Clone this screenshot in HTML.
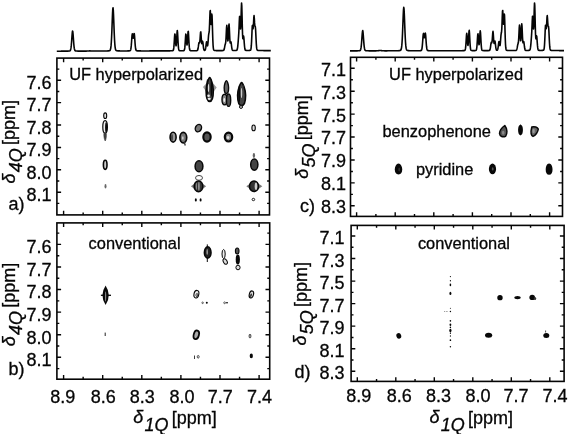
<!DOCTYPE html>
<html><head><meta charset="utf-8"><style>
html,body{margin:0;padding:0;background:#fff;}
svg{display:block;}
text{font-family:"Liberation Sans", Arial, sans-serif;fill:#050505;stroke:#000;stroke-width:0.3px;paint-order:stroke;}
</style></head><body>
<svg width="569" height="434" viewBox="0 0 569 434">
<rect width="569" height="434" fill="#fff"/>
<path d="M56.80,51.19 L57.05,51.19 L57.30,51.19 L57.55,51.19 L57.80,51.19 L58.05,51.19 L58.30,51.19 L58.55,51.18 L58.80,51.18 L59.05,51.18 L59.30,51.18 L59.55,51.18 L59.80,51.18 L60.05,51.18 L60.30,51.18 L60.55,51.18 L60.80,51.18 L61.05,51.17 L61.30,51.17 L61.55,51.17 L61.80,51.17 L62.05,51.17 L62.30,51.17 L62.55,51.17 L62.80,51.16 L63.05,51.16 L63.30,51.16 L63.55,51.16 L63.80,51.16 L64.05,51.16 L64.30,51.15 L64.55,51.15 L64.80,51.15 L65.05,51.15 L65.30,51.14 L65.55,51.14 L65.80,51.14 L66.05,51.14 L66.30,51.13 L66.55,51.13 L66.80,51.12 L67.05,51.12 L67.30,51.11 L67.55,51.11 L67.80,51.10 L68.05,51.09 L68.30,51.08 L68.55,51.07 L68.80,51.06 L69.05,51.04 L69.30,51.02 L69.55,50.98 L69.80,50.90 L70.05,50.75 L70.30,50.45 L70.55,49.90 L70.80,48.93 L71.05,47.38 L71.30,45.13 L71.55,42.20 L71.80,38.80 L72.05,35.34 L72.30,32.45 L72.55,31.00 L72.80,31.65 L73.05,34.07 L73.30,37.39 L73.55,40.87 L73.80,44.03 L74.05,46.56 L74.30,48.38 L74.55,49.56 L74.80,50.26 L75.05,50.64 L75.30,50.84 L75.55,50.94 L75.80,50.99 L76.05,51.01 L76.30,51.03 L76.55,51.05 L76.80,51.06 L77.05,51.06 L77.30,51.07 L77.55,51.08 L77.80,51.08 L78.05,51.08 L78.30,51.09 L78.55,51.09 L78.80,51.09 L79.05,51.10 L79.30,51.10 L79.55,51.10 L79.80,51.10 L80.05,51.10 L80.30,51.10 L80.55,51.10 L80.80,51.10 L81.05,51.10 L81.30,51.11 L81.55,51.11 L81.80,51.11 L82.05,51.11 L82.30,51.11 L82.55,51.11 L82.80,51.11 L83.05,51.11 L83.30,51.11 L83.55,51.10 L83.80,51.10 L84.05,51.10 L84.30,51.10 L84.55,51.10 L84.80,51.10 L85.05,51.10 L85.30,51.10 L85.55,51.10 L85.80,51.09 L86.05,51.09 L86.30,51.09 L86.55,51.08 L86.80,51.07 L87.05,51.06 L87.30,51.05 L87.55,51.04 L87.80,51.02 L88.05,51.00 L88.30,50.98 L88.55,50.96 L88.80,50.95 L89.05,50.93 L89.30,50.92 L89.55,50.91 L89.80,50.91 L90.05,50.91 L90.30,50.92 L90.55,50.94 L90.80,50.95 L91.05,50.97 L91.30,50.99 L91.55,51.01 L91.80,51.02 L92.05,51.03 L92.30,51.04 L92.55,51.05 L92.80,51.06 L93.05,51.07 L93.30,51.07 L93.55,51.07 L93.80,51.07 L94.05,51.07 L94.30,51.07 L94.55,51.07 L94.80,51.07 L95.05,51.07 L95.30,51.07 L95.55,51.07 L95.80,51.07 L96.05,51.07 L96.30,51.07 L96.55,51.07 L96.80,51.07 L97.05,51.07 L97.30,51.06 L97.55,51.06 L97.80,51.06 L98.05,51.06 L98.30,51.06 L98.55,51.06 L98.80,51.06 L99.05,51.06 L99.30,51.05 L99.55,51.05 L99.80,51.05 L100.05,51.05 L100.30,51.05 L100.55,51.05 L100.80,51.04 L101.05,51.04 L101.30,51.04 L101.55,51.04 L101.80,51.04 L102.05,51.03 L102.30,51.03 L102.55,51.03 L102.80,51.03 L103.05,51.02 L103.30,51.02 L103.55,51.02 L103.80,51.02 L104.05,51.01 L104.30,51.01 L104.55,51.00 L104.80,51.00 L105.05,51.00 L105.30,50.99 L105.55,50.99 L105.80,50.98 L106.05,50.97 L106.30,50.97 L106.55,50.96 L106.80,50.95 L107.05,50.94 L107.30,50.93 L107.55,50.92 L107.80,50.90 L108.05,50.89 L108.30,50.87 L108.55,50.85 L108.80,50.82 L109.05,50.79 L109.30,50.74 L109.55,50.67 L109.80,50.54 L110.05,50.31 L110.30,49.88 L110.55,49.10 L110.80,47.77 L111.05,45.63 L111.30,42.44 L111.55,38.04 L111.80,32.46 L112.05,26.00 L112.30,19.27 L112.55,13.15 L112.80,8.84 L113.05,7.72 L113.30,10.25 L113.55,15.45 L113.80,21.94 L114.05,28.65 L114.30,34.81 L114.55,39.94 L114.80,43.85 L115.05,46.59 L115.30,48.37 L115.55,49.45 L115.80,50.07 L116.05,50.40 L116.30,50.58 L116.55,50.68 L116.80,50.74 L117.05,50.78 L117.30,50.81 L117.55,50.83 L117.80,50.85 L118.05,50.86 L118.30,50.88 L118.55,50.89 L118.80,50.90 L119.05,50.90 L119.30,50.91 L119.55,50.92 L119.80,50.92 L120.05,50.93 L120.30,50.93 L120.55,50.94 L120.80,50.94 L121.05,50.94 L121.30,50.95 L121.55,50.95 L121.80,50.95 L122.05,50.95 L122.30,50.95 L122.55,50.95 L122.80,50.95 L123.05,50.95 L123.30,50.95 L123.55,50.95 L123.80,50.95 L124.05,50.95 L124.30,50.95 L124.55,50.95 L124.80,50.95 L125.05,50.95 L125.30,50.95 L125.55,50.95 L125.80,50.95 L126.05,50.94 L126.30,50.94 L126.55,50.94 L126.80,50.94 L127.05,50.93 L127.30,50.93 L127.55,50.92 L127.80,50.92 L128.05,50.91 L128.30,50.90 L128.55,50.89 L128.80,50.88 L129.05,50.87 L129.30,50.85 L129.55,50.82 L129.80,50.78 L130.05,50.69 L130.30,50.49 L130.55,50.04 L130.80,49.16 L131.05,47.58 L131.30,45.15 L131.55,41.96 L131.80,38.42 L132.05,35.33 L132.30,33.79 L132.55,34.45 L132.80,36.27 L133.05,37.81 L133.30,38.17 L133.55,37.12 L133.80,35.20 L134.05,33.57 L134.30,33.74 L134.55,36.09 L134.80,39.56 L135.05,43.12 L135.30,46.11 L135.55,48.24 L135.80,49.54 L136.05,50.24 L136.30,50.57 L136.55,50.72 L136.80,50.79 L137.05,50.82 L137.30,50.84 L137.55,50.86 L137.80,50.87 L138.05,50.88 L138.30,50.89 L138.55,50.89 L138.80,50.90 L139.05,50.90 L139.30,50.91 L139.55,50.91 L139.80,50.92 L140.05,50.92 L140.30,50.92 L140.55,50.92 L140.80,50.92 L141.05,50.93 L141.30,50.93 L141.55,50.93 L141.80,50.93 L142.05,50.93 L142.30,50.93 L142.55,50.93 L142.80,50.93 L143.05,50.93 L143.30,50.93 L143.55,50.93 L143.80,50.93 L144.05,50.93 L144.30,50.93 L144.55,50.93 L144.80,50.93 L145.05,50.93 L145.30,50.93 L145.55,50.93 L145.80,50.93 L146.05,50.93 L146.30,50.93 L146.55,50.93 L146.80,50.93 L147.05,50.93 L147.30,50.93 L147.55,50.93 L147.80,50.93 L148.05,50.93 L148.30,50.93 L148.55,50.93 L148.80,50.93 L149.05,50.93 L149.30,50.93 L149.55,50.92 L149.80,50.92 L150.05,50.92 L150.30,50.92 L150.55,50.92 L150.80,50.92 L151.05,50.92 L151.30,50.92 L151.55,50.92 L151.80,50.92 L152.05,50.92 L152.30,50.92 L152.55,50.92 L152.80,50.92 L153.05,50.92 L153.30,50.92 L153.55,50.91 L153.80,50.91 L154.05,50.91 L154.30,50.91 L154.55,50.91 L154.80,50.91 L155.05,50.91 L155.30,50.91 L155.55,50.91 L155.80,50.91 L156.05,50.91 L156.30,50.91 L156.55,50.91 L156.80,50.91 L157.05,50.90 L157.30,50.90 L157.55,50.90 L157.80,50.90 L158.05,50.90 L158.30,50.90 L158.55,50.90 L158.80,50.90 L159.05,50.90 L159.30,50.90 L159.55,50.90 L159.80,50.90 L160.05,50.90 L160.30,50.89 L160.55,50.89 L160.80,50.89 L161.05,50.89 L161.30,50.89 L161.55,50.89 L161.80,50.89 L162.05,50.89 L162.30,50.89 L162.55,50.89 L162.80,50.88 L163.05,50.88 L163.30,50.88 L163.55,50.88 L163.80,50.88 L164.05,50.88 L164.30,50.88 L164.55,50.88 L164.80,50.88 L165.05,50.87 L165.30,50.87 L165.55,50.87 L165.80,50.87 L166.05,50.87 L166.30,50.87 L166.55,50.87 L166.80,50.86 L167.05,50.86 L167.30,50.86 L167.55,50.86 L167.80,50.86 L168.05,50.85 L168.30,50.85 L168.55,50.85 L168.80,50.85 L169.05,50.84 L169.30,50.84 L169.55,50.84 L169.80,50.83 L170.05,50.83 L170.30,50.82 L170.55,50.82 L170.80,50.81 L171.05,50.80 L171.30,50.80 L171.55,50.79 L171.80,50.77 L172.05,50.76 L172.30,50.74 L172.55,50.71 L172.80,50.65 L173.05,50.52 L173.30,50.17 L173.55,49.34 L173.80,47.66 L174.05,44.81 L174.30,40.93 L174.55,36.81 L174.80,33.98 L175.05,34.30 L175.30,37.44 L175.55,41.36 L175.80,44.48 L176.05,45.74 L176.30,44.70 L176.55,41.48 L176.80,36.89 L177.05,32.46 L177.30,30.46 L177.55,32.52 L177.80,37.07 L178.05,41.95 L178.30,45.87 L178.55,48.40 L178.80,49.72 L179.05,50.31 L179.30,50.54 L179.55,50.63 L179.80,50.67 L180.05,50.69 L180.30,50.71 L180.55,50.72 L180.80,50.72 L181.05,50.73 L181.30,50.73 L181.55,50.73 L181.80,50.73 L182.05,50.73 L182.30,50.72 L182.55,50.72 L182.80,50.71 L183.05,50.70 L183.30,50.68 L183.55,50.65 L183.80,50.60 L184.05,50.47 L184.30,50.12 L184.55,49.31 L184.80,47.65 L185.05,44.84 L185.30,41.01 L185.55,36.95 L185.80,34.15 L186.05,34.45 L186.30,37.51 L186.55,41.29 L186.80,44.14 L187.05,44.99 L187.30,43.46 L187.55,39.88 L187.80,35.37 L188.05,31.76 L188.30,31.39 L188.55,34.65 L188.80,39.39 L189.05,43.86 L189.30,47.13 L189.55,49.06 L189.80,50.01 L190.05,50.41 L190.30,50.56 L190.55,50.63 L190.80,50.66 L191.05,50.68 L191.30,50.69 L191.55,50.70 L191.80,50.71 L192.05,50.71 L192.30,50.72 L192.55,50.72 L192.80,50.73 L193.05,50.73 L193.30,50.73 L193.55,50.73 L193.80,50.73 L194.05,50.73 L194.30,50.73 L194.55,50.72 L194.80,50.72 L195.05,50.72 L195.30,50.71 L195.55,50.71 L195.80,50.70 L196.05,50.69 L196.30,50.68 L196.55,50.67 L196.80,50.64 L197.05,50.59 L197.30,50.48 L197.55,50.21 L197.80,49.62 L198.05,48.55 L198.30,46.95 L198.55,45.05 L198.80,43.34 L199.05,42.55 L199.30,42.80 L199.55,42.95 L199.80,41.87 L200.05,39.15 L200.30,35.40 L200.55,32.23 L200.80,31.93 L201.05,34.88 L201.30,38.90 L201.55,42.15 L201.80,43.62 L202.05,43.31 L202.30,42.06 L202.55,41.19 L202.80,41.90 L203.05,43.88 L203.30,46.14 L203.55,48.04 L203.80,49.31 L204.05,50.00 L204.30,50.30 L204.55,50.39 L204.80,50.36 L205.05,50.16 L205.30,49.68 L205.55,48.71 L205.80,47.15 L206.05,45.10 L206.30,43.05 L206.55,41.83 L206.80,42.26 L207.05,43.81 L207.30,45.30 L207.55,45.80 L207.80,44.76 L208.05,42.19 L208.30,38.75 L208.55,35.50 L208.80,33.63 L209.05,32.62 L209.30,30.13 L209.55,24.88 L209.80,17.67 L210.05,11.44 L210.30,10.59 L210.55,15.58 L210.80,21.54 L211.05,24.48 L211.30,22.86 L211.55,18.09 L211.80,14.08 L212.05,15.63 L212.30,22.70 L212.55,31.53 L212.80,39.35 L213.05,44.83 L213.30,47.95 L213.55,49.43 L213.80,50.04 L214.05,50.28 L214.30,50.39 L214.55,50.44 L214.80,50.48 L215.05,50.51 L215.30,50.54 L215.55,50.56 L215.80,50.57 L216.05,50.59 L216.30,50.60 L216.55,50.61 L216.80,50.61 L217.05,50.62 L217.30,50.63 L217.55,50.63 L217.80,50.63 L218.05,50.64 L218.30,50.64 L218.55,50.64 L218.80,50.64 L219.05,50.64 L219.30,50.64 L219.55,50.64 L219.80,50.64 L220.05,50.64 L220.30,50.64 L220.55,50.64 L220.80,50.63 L221.05,50.63 L221.30,50.62 L221.55,50.62 L221.80,50.61 L222.05,50.60 L222.30,50.59 L222.55,50.58 L222.80,50.57 L223.05,50.54 L223.30,50.50 L223.55,50.39 L223.80,50.16 L224.05,49.67 L224.30,48.83 L224.55,47.61 L224.80,46.20 L225.05,44.90 L225.30,44.05 L225.55,43.28 L225.80,41.44 L226.05,37.80 L226.30,32.65 L226.55,27.55 L226.80,25.22 L227.05,27.71 L227.30,32.98 L227.55,38.10 L227.80,40.95 L228.05,40.43 L228.30,36.65 L228.55,30.96 L228.80,25.72 L229.05,24.13 L229.30,27.56 L229.55,33.34 L229.80,38.70 L230.05,42.03 L230.30,43.04 L230.55,42.49 L230.80,41.73 L231.05,42.16 L231.30,43.86 L231.55,45.97 L231.80,47.84 L232.05,49.15 L232.30,49.89 L232.55,50.25 L232.80,50.40 L233.05,50.46 L233.30,50.48 L233.55,50.50 L233.80,50.50 L234.05,50.51 L234.30,50.51 L234.55,50.50 L234.80,50.50 L235.05,50.49 L235.30,50.48 L235.55,50.47 L235.80,50.45 L236.05,50.42 L236.30,50.39 L236.55,50.32 L236.80,50.18 L237.05,49.84 L237.30,49.14 L237.55,47.85 L237.80,45.85 L238.05,43.19 L238.30,40.01 L238.55,36.59 L238.80,32.70 L239.05,27.50 L239.30,21.40 L239.55,16.53 L239.80,16.35 L240.05,21.13 L240.30,26.63 L240.55,28.96 L240.80,25.98 L241.05,18.16 L241.30,8.69 L241.55,2.93 L241.80,5.99 L242.05,15.61 L242.30,26.35 L242.55,34.53 L242.80,38.54 L243.05,38.84 L243.30,37.20 L243.55,35.97 L243.80,37.09 L244.05,40.12 L244.30,43.59 L244.55,46.51 L244.80,48.48 L245.05,49.56 L245.30,50.06 L245.55,50.27 L245.80,50.35 L246.05,50.40 L246.30,50.42 L246.55,50.44 L246.80,50.45 L247.05,50.46 L247.30,50.46 L247.55,50.47 L247.80,50.47 L248.05,50.47 L248.30,50.46 L248.55,50.46 L248.80,50.45 L249.05,50.44 L249.30,50.42 L249.55,50.40 L249.80,50.37 L250.05,50.33 L250.30,50.24 L250.55,50.05 L250.80,49.54 L251.05,48.36 L251.30,45.95 L251.55,41.90 L251.80,36.34 L252.05,30.35 L252.30,25.92 L252.55,25.29 L252.80,27.39 L253.05,28.76 L253.30,27.24 L253.55,22.84 L253.80,17.71 L254.05,15.66 L254.30,18.38 L254.55,22.64 L254.80,25.54 L255.05,26.35 L255.30,26.50 L255.55,28.79 L255.80,33.59 L256.05,39.04 L256.30,43.75 L256.55,47.02 L256.80,48.88 L257.05,49.77 L257.30,50.15 L257.55,50.30 L257.80,50.37 L258.05,50.41 L258.30,50.43 L258.55,50.46 L258.80,50.47 L259.05,50.49 L259.30,50.50 L259.55,50.51 L259.80,50.52 L260.05,50.53 L260.30,50.54 L260.55,50.54 L260.80,50.55 L261.05,50.55 L261.30,50.56 L261.55,50.56 L261.80,50.56 L262.05,50.56 L262.30,50.57 L262.55,50.57 L262.80,50.57 L263.05,50.57 L263.30,50.57 L263.55,50.58 L263.80,50.58 L264.05,50.58 L264.30,50.58 L264.55,50.58 L264.80,50.58 L265.05,50.58 L265.30,50.58 L265.55,50.58 L265.80,50.58 L266.05,50.58 L266.30,50.58 L266.55,50.58 L266.80,50.58 L267.05,50.58 L267.30,50.58 L267.55,50.58 L267.80,50.58 L268.05,50.58 L268.30,50.58 L268.55,50.58 L268.80,50.58 L269.05,50.58 L269.30,50.58 L269.55,50.58 L269.80,50.58 L270.05,50.58 L270.30,50.58 L270.55,50.58 L270.80,50.58" fill="none" stroke="#050505" stroke-width="1.6" stroke-linejoin="round"/>
<path d="M350.00,50.89 L350.25,50.89 L350.50,50.89 L350.75,50.89 L351.00,50.88 L351.25,50.88 L351.50,50.88 L351.75,50.88 L352.00,50.88 L352.25,50.88 L352.50,50.88 L352.75,50.88 L353.00,50.88 L353.25,50.87 L353.50,50.87 L353.75,50.87 L354.00,50.87 L354.25,50.87 L354.50,50.87 L354.75,50.87 L355.00,50.86 L355.25,50.86 L355.50,50.86 L355.75,50.86 L356.00,50.85 L356.25,50.85 L356.50,50.85 L356.75,50.84 L357.00,50.84 L357.25,50.83 L357.50,50.83 L357.75,50.82 L358.00,50.82 L358.25,50.81 L358.50,50.80 L358.75,50.79 L359.00,50.77 L359.25,50.75 L359.50,50.72 L359.75,50.66 L360.00,50.55 L360.25,50.33 L360.50,49.91 L360.75,49.16 L361.00,47.92 L361.25,46.04 L361.50,43.47 L361.75,40.31 L362.00,36.85 L362.25,33.58 L362.50,31.21 L362.75,30.58 L363.00,31.99 L363.25,34.82 L363.50,38.24 L363.75,41.63 L364.00,44.58 L364.25,46.87 L364.50,48.48 L364.75,49.50 L365.00,50.10 L365.25,50.43 L365.50,50.59 L365.75,50.68 L366.00,50.72 L366.25,50.75 L366.50,50.77 L366.75,50.78 L367.00,50.79 L367.25,50.80 L367.50,50.80 L367.75,50.81 L368.00,50.81 L368.25,50.82 L368.50,50.82 L368.75,50.83 L369.00,50.83 L369.25,50.83 L369.50,50.83 L369.75,50.83 L370.00,50.84 L370.25,50.84 L370.50,50.84 L370.75,50.84 L371.00,50.84 L371.25,50.84 L371.50,50.84 L371.75,50.84 L372.00,50.84 L372.25,50.84 L372.50,50.84 L372.75,50.85 L373.00,50.85 L373.25,50.85 L373.50,50.85 L373.75,50.85 L374.00,50.85 L374.25,50.85 L374.50,50.84 L374.75,50.84 L375.00,50.84 L375.25,50.84 L375.50,50.84 L375.75,50.84 L376.00,50.84 L376.25,50.83 L376.50,50.82 L376.75,50.81 L377.00,50.80 L377.25,50.79 L377.50,50.77 L377.75,50.75 L378.00,50.72 L378.25,50.69 L378.50,50.66 L378.75,50.63 L379.00,50.59 L379.25,50.56 L379.50,50.54 L379.75,50.52 L380.00,50.51 L380.25,50.51 L380.50,50.52 L380.75,50.54 L381.00,50.57 L381.25,50.60 L381.50,50.63 L381.75,50.66 L382.00,50.69 L382.25,50.72 L382.50,50.75 L382.75,50.77 L383.00,50.78 L383.25,50.80 L383.50,50.81 L383.75,50.81 L384.00,50.82 L384.25,50.82 L384.50,50.83 L384.75,50.83 L385.00,50.83 L385.25,50.83 L385.50,50.83 L385.75,50.83 L386.00,50.83 L386.25,50.83 L386.50,50.83 L386.75,50.83 L387.00,50.83 L387.25,50.83 L387.50,50.82 L387.75,50.82 L388.00,50.82 L388.25,50.82 L388.50,50.82 L388.75,50.82 L389.00,50.82 L389.25,50.82 L389.50,50.82 L389.75,50.82 L390.00,50.82 L390.25,50.81 L390.50,50.81 L390.75,50.81 L391.00,50.81 L391.25,50.81 L391.50,50.81 L391.75,50.81 L392.00,50.81 L392.25,50.80 L392.50,50.80 L392.75,50.80 L393.00,50.80 L393.25,50.80 L393.50,50.79 L393.75,50.79 L394.00,50.79 L394.25,50.79 L394.50,50.78 L394.75,50.78 L395.00,50.78 L395.25,50.77 L395.50,50.77 L395.75,50.77 L396.00,50.76 L396.25,50.76 L396.50,50.75 L396.75,50.74 L397.00,50.74 L397.25,50.73 L397.50,50.72 L397.75,50.71 L398.00,50.70 L398.25,50.69 L398.50,50.68 L398.75,50.66 L399.00,50.65 L399.25,50.63 L399.50,50.60 L399.75,50.57 L400.00,50.52 L400.25,50.46 L400.50,50.34 L400.75,50.13 L401.00,49.74 L401.25,49.05 L401.50,47.85 L401.75,45.93 L402.00,43.03 L402.25,38.97 L402.50,33.74 L402.75,27.55 L403.00,20.91 L403.25,14.58 L403.50,9.61 L403.75,7.32 L404.00,8.59 L404.25,12.92 L404.50,18.97 L404.75,25.61 L405.00,31.99 L405.25,37.54 L405.50,41.95 L405.75,45.18 L406.00,47.37 L406.25,48.75 L406.50,49.57 L406.75,50.03 L407.00,50.28 L407.25,50.42 L407.50,50.49 L407.75,50.54 L408.00,50.58 L408.25,50.60 L408.50,50.62 L408.75,50.64 L409.00,50.65 L409.25,50.67 L409.50,50.68 L409.75,50.69 L410.00,50.70 L410.25,50.70 L410.50,50.71 L410.75,50.72 L411.00,50.72 L411.25,50.73 L411.50,50.73 L411.75,50.73 L412.00,50.74 L412.25,50.74 L412.50,50.74 L412.75,50.74 L413.00,50.75 L413.25,50.75 L413.50,50.75 L413.75,50.75 L414.00,50.75 L414.25,50.75 L414.50,50.75 L414.75,50.75 L415.00,50.75 L415.25,50.75 L415.50,50.75 L415.75,50.75 L416.00,50.75 L416.25,50.75 L416.50,50.75 L416.75,50.75 L417.00,50.74 L417.25,50.74 L417.50,50.74 L417.75,50.74 L418.00,50.73 L418.25,50.73 L418.50,50.73 L418.75,50.72 L419.00,50.72 L419.25,50.71 L419.50,50.70 L419.75,50.69 L420.00,50.68 L420.25,50.66 L420.50,50.64 L420.75,50.61 L421.00,50.55 L421.25,50.42 L421.50,50.12 L421.75,49.51 L422.00,48.35 L422.25,46.44 L422.50,43.69 L422.75,40.32 L423.00,36.87 L423.25,34.21 L423.50,33.44 L423.75,34.65 L424.00,36.50 L424.25,37.75 L424.50,37.72 L424.75,36.38 L425.00,34.41 L425.25,33.07 L425.50,33.73 L425.75,36.37 L426.00,39.89 L426.25,43.37 L426.50,46.22 L426.75,48.22 L427.00,49.43 L427.25,50.08 L427.50,50.40 L427.75,50.54 L428.00,50.60 L428.25,50.64 L428.50,50.66 L428.75,50.67 L429.00,50.68 L429.25,50.69 L429.50,50.70 L429.75,50.71 L430.00,50.72 L430.25,50.72 L430.50,50.73 L430.75,50.73 L431.00,50.73 L431.25,50.74 L431.50,50.74 L431.75,50.74 L432.00,50.74 L432.25,50.75 L432.50,50.75 L432.75,50.75 L433.00,50.75 L433.25,50.75 L433.50,50.75 L433.75,50.75 L434.00,50.75 L434.25,50.75 L434.50,50.75 L434.75,50.76 L435.00,50.76 L435.25,50.76 L435.50,50.76 L435.75,50.76 L436.00,50.76 L436.25,50.76 L436.50,50.76 L436.75,50.76 L437.00,50.76 L437.25,50.76 L437.50,50.76 L437.75,50.76 L438.00,50.76 L438.25,50.76 L438.50,50.76 L438.75,50.76 L439.00,50.76 L439.25,50.76 L439.50,50.76 L439.75,50.76 L440.00,50.76 L440.25,50.76 L440.50,50.76 L440.75,50.76 L441.00,50.76 L441.25,50.76 L441.50,50.76 L441.75,50.76 L442.00,50.76 L442.25,50.76 L442.50,50.76 L442.75,50.76 L443.00,50.76 L443.25,50.76 L443.50,50.75 L443.75,50.75 L444.00,50.75 L444.25,50.75 L444.50,50.75 L444.75,50.75 L445.00,50.75 L445.25,50.75 L445.50,50.75 L445.75,50.75 L446.00,50.75 L446.25,50.75 L446.50,50.75 L446.75,50.75 L447.00,50.75 L447.25,50.75 L447.50,50.75 L447.75,50.75 L448.00,50.75 L448.25,50.75 L448.50,50.75 L448.75,50.75 L449.00,50.75 L449.25,50.75 L449.50,50.75 L449.75,50.75 L450.00,50.75 L450.25,50.74 L450.50,50.74 L450.75,50.74 L451.00,50.74 L451.25,50.74 L451.50,50.74 L451.75,50.74 L452.00,50.74 L452.25,50.74 L452.50,50.74 L452.75,50.74 L453.00,50.74 L453.25,50.74 L453.50,50.74 L453.75,50.74 L454.00,50.74 L454.25,50.74 L454.50,50.74 L454.75,50.73 L455.00,50.73 L455.25,50.73 L455.50,50.73 L455.75,50.73 L456.00,50.73 L456.25,50.73 L456.50,50.73 L456.75,50.73 L457.00,50.73 L457.25,50.73 L457.50,50.72 L457.75,50.72 L458.00,50.72 L458.25,50.72 L458.50,50.72 L458.75,50.72 L459.00,50.72 L459.25,50.72 L459.50,50.71 L459.75,50.71 L460.00,50.71 L460.25,50.71 L460.50,50.71 L460.75,50.70 L461.00,50.70 L461.25,50.70 L461.50,50.69 L461.75,50.69 L462.00,50.69 L462.25,50.68 L462.50,50.67 L462.75,50.67 L463.00,50.66 L463.25,50.65 L463.50,50.64 L463.75,50.63 L464.00,50.61 L464.25,50.59 L464.50,50.54 L464.75,50.45 L465.00,50.22 L465.25,49.66 L465.50,48.43 L465.75,46.19 L466.00,42.80 L466.25,38.69 L466.50,34.96 L466.75,33.39 L467.00,35.15 L467.25,38.82 L467.50,42.55 L467.75,45.03 L468.00,45.47 L468.25,43.63 L468.50,39.86 L468.75,35.17 L469.00,31.24 L469.25,30.36 L469.50,33.31 L469.75,38.06 L470.00,42.76 L470.25,46.36 L470.50,48.59 L470.75,49.73 L471.00,50.24 L471.25,50.43 L471.50,50.51 L471.75,50.55 L472.00,50.57 L472.25,50.58 L472.50,50.59 L472.75,50.60 L473.00,50.60 L473.25,50.61 L473.50,50.61 L473.75,50.61 L474.00,50.61 L474.25,50.60 L474.50,50.60 L474.75,50.59 L475.00,50.58 L475.25,50.56 L475.50,50.54 L475.75,50.49 L476.00,50.38 L476.25,50.09 L476.50,49.41 L476.75,47.97 L477.00,45.47 L477.25,41.88 L477.50,37.79 L477.75,34.46 L478.00,33.71 L478.25,36.10 L478.50,39.81 L478.75,43.12 L479.00,44.78 L479.25,44.18 L479.50,41.35 L479.75,37.09 L480.00,32.85 L480.25,30.77 L480.50,32.52 L480.75,36.78 L481.00,41.51 L481.25,45.43 L481.50,48.03 L481.75,49.45 L482.00,50.11 L482.25,50.38 L482.50,50.48 L482.75,50.53 L483.00,50.55 L483.25,50.57 L483.50,50.58 L483.75,50.59 L484.00,50.60 L484.25,50.61 L484.50,50.61 L484.75,50.62 L485.00,50.62 L485.25,50.62 L485.50,50.62 L485.75,50.62 L486.00,50.62 L486.25,50.62 L486.50,50.62 L486.75,50.62 L487.00,50.61 L487.25,50.61 L487.50,50.61 L487.75,50.60 L488.00,50.59 L488.25,50.59 L488.50,50.58 L488.75,50.56 L489.00,50.54 L489.25,50.49 L489.50,50.39 L489.75,50.13 L490.00,49.58 L490.25,48.58 L490.50,47.05 L490.75,45.16 L491.00,43.36 L491.25,42.35 L491.50,42.47 L491.75,42.78 L492.00,42.09 L492.25,39.81 L492.50,36.25 L492.75,32.74 L493.00,31.37 L493.25,33.44 L493.50,37.32 L493.75,40.97 L494.00,43.12 L494.25,43.42 L494.50,42.40 L494.75,41.18 L495.00,41.13 L495.25,42.66 L495.50,44.88 L495.75,47.01 L496.00,48.61 L496.25,49.59 L496.50,50.07 L496.75,50.26 L497.00,50.30 L497.25,50.21 L497.50,49.92 L497.75,49.27 L498.00,48.10 L498.25,46.33 L498.50,44.22 L498.75,42.32 L499.00,41.54 L499.25,42.40 L499.50,44.04 L499.75,45.37 L500.00,45.56 L500.25,44.19 L500.50,41.41 L500.75,37.94 L501.00,34.87 L501.25,33.26 L501.50,32.22 L501.75,29.51 L502.00,24.10 L502.25,16.94 L502.50,10.99 L502.75,10.46 L503.00,15.49 L503.25,21.36 L503.50,24.28 L503.75,22.78 L504.00,18.13 L504.25,13.99 L504.50,15.02 L504.75,21.67 L505.00,30.37 L505.25,38.31 L505.50,44.07 L505.75,47.47 L506.00,49.16 L506.25,49.88 L506.50,50.17 L506.75,50.29 L507.00,50.35 L507.25,50.39 L507.50,50.43 L507.75,50.45 L508.00,50.47 L508.25,50.49 L508.50,50.50 L508.75,50.52 L509.00,50.53 L509.25,50.54 L509.50,50.54 L509.75,50.55 L510.00,50.55 L510.25,50.56 L510.50,50.56 L510.75,50.56 L511.00,50.57 L511.25,50.57 L511.50,50.57 L511.75,50.57 L512.00,50.57 L512.25,50.57 L512.50,50.57 L512.75,50.57 L513.00,50.57 L513.25,50.57 L513.50,50.56 L513.75,50.56 L514.00,50.55 L514.25,50.55 L514.50,50.54 L514.75,50.53 L515.00,50.52 L515.25,50.51 L515.50,50.50 L515.75,50.47 L516.00,50.42 L516.25,50.30 L516.50,50.04 L516.75,49.51 L517.00,48.63 L517.25,47.38 L517.50,45.95 L517.75,44.65 L518.00,43.83 L518.25,43.08 L518.50,41.31 L518.75,37.78 L519.00,32.74 L519.25,27.64 L519.50,25.02 L519.75,27.08 L520.00,32.15 L520.25,37.37 L520.50,40.61 L520.75,40.65 L521.00,37.41 L521.25,31.99 L521.50,26.48 L521.75,23.81 L522.00,26.15 L522.25,31.57 L522.50,37.18 L522.75,41.15 L523.00,42.79 L523.25,42.60 L523.50,41.72 L523.75,41.61 L524.00,42.93 L524.25,44.98 L524.50,47.00 L524.75,48.57 L525.00,49.55 L525.25,50.06 L525.50,50.29 L525.75,50.38 L526.00,50.42 L526.25,50.44 L526.50,50.45 L526.75,50.45 L527.00,50.45 L527.25,50.45 L527.50,50.45 L527.75,50.45 L528.00,50.44 L528.25,50.43 L528.50,50.41 L528.75,50.39 L529.00,50.37 L529.25,50.33 L529.50,50.25 L529.75,50.07 L530.00,49.67 L530.25,48.87 L530.50,47.46 L530.75,45.34 L531.00,42.60 L531.25,39.39 L531.50,36.00 L531.75,32.07 L532.00,26.84 L532.25,20.83 L532.50,16.20 L532.75,16.25 L533.00,21.05 L533.25,26.48 L533.50,28.84 L533.75,26.06 L534.00,18.51 L534.25,9.14 L534.50,2.94 L534.75,5.09 L535.00,14.14 L535.25,24.83 L535.50,33.42 L535.75,38.04 L536.00,38.86 L536.25,37.42 L536.50,35.89 L536.75,36.41 L537.00,39.11 L537.25,42.56 L537.50,45.68 L537.75,47.92 L538.00,49.24 L538.25,49.90 L538.50,50.18 L538.75,50.29 L539.00,50.35 L539.25,50.38 L539.50,50.39 L539.75,50.41 L540.00,50.42 L540.25,50.43 L540.50,50.43 L540.75,50.44 L541.00,50.44 L541.25,50.43 L541.50,50.43 L541.75,50.42 L542.00,50.41 L542.25,50.40 L542.50,50.38 L542.75,50.36 L543.00,50.33 L543.25,50.28 L543.50,50.17 L543.75,49.91 L544.00,49.27 L544.25,47.83 L544.50,45.06 L544.75,40.66 L545.00,34.94 L545.25,29.14 L545.50,25.31 L545.75,25.36 L546.00,27.55 L546.25,28.61 L546.50,26.74 L546.75,22.19 L547.00,17.22 L547.25,15.53 L547.50,18.39 L547.75,22.59 L548.00,25.41 L548.25,26.19 L548.50,26.31 L548.75,28.48 L549.00,33.15 L549.25,38.56 L549.50,43.31 L549.75,46.70 L550.00,48.68 L550.25,49.66 L550.50,50.09 L550.75,50.26 L551.00,50.34 L551.25,50.38 L551.50,50.41 L551.75,50.43 L552.00,50.45 L552.25,50.47 L552.50,50.48 L552.75,50.49 L553.00,50.50 L553.25,50.51 L553.50,50.52 L553.75,50.53 L554.00,50.53 L554.25,50.54 L554.50,50.54 L554.75,50.54 L555.00,50.55 L555.25,50.55 L555.50,50.55 L555.75,50.56 L556.00,50.56 L556.25,50.56 L556.50,50.56 L556.75,50.56 L557.00,50.57 L557.25,50.57 L557.50,50.57 L557.75,50.57 L558.00,50.57 L558.25,50.57 L558.50,50.57 L558.75,50.57 L559.00,50.57 L559.25,50.58 L559.50,50.58 L559.75,50.58 L560.00,50.58 L560.25,50.58 L560.50,50.58 L560.75,50.58 L561.00,50.58 L561.25,50.58 L561.50,50.58 L561.75,50.58 L562.00,50.58 L562.25,50.58 L562.50,50.58 L562.75,50.58 L563.00,50.58 L563.25,50.58 L563.50,50.58 L563.75,50.58 L564.00,50.58" fill="none" stroke="#050505" stroke-width="1.6" stroke-linejoin="round"/>
<rect x="56.90" y="58.10" width="212.60" height="156.80" fill="none" stroke="#050505" stroke-width="1.60"/>
<rect x="56.90" y="222.90" width="212.80" height="156.30" fill="none" stroke="#050505" stroke-width="1.60"/>
<rect x="350.50" y="57.30" width="212.00" height="159.10" fill="none" stroke="#050505" stroke-width="1.60"/>
<rect x="351.10" y="225.40" width="213.00" height="156.00" fill="none" stroke="#050505" stroke-width="1.60"/>
<path d="M63.60,58.10v4.2M63.60,214.90v-4.2M102.70,58.10v4.2M102.70,214.90v-4.2M141.80,58.10v4.2M141.80,214.90v-4.2M180.90,58.10v4.2M180.90,214.90v-4.2M220.00,58.10v4.2M220.00,214.90v-4.2M259.10,58.10v4.2M259.10,214.90v-4.2M83.15,58.10v2.4M83.15,214.90v-2.4M122.25,58.10v2.4M122.25,214.90v-2.4M161.35,58.10v2.4M161.35,214.90v-2.4M200.45,58.10v2.4M200.45,214.90v-2.4M239.55,58.10v2.4M239.55,214.90v-2.4M63.60,222.90v4.2M63.60,379.20v-4.2M102.70,222.90v4.2M102.70,379.20v-4.2M141.80,222.90v4.2M141.80,379.20v-4.2M180.90,222.90v4.2M180.90,379.20v-4.2M220.00,222.90v4.2M220.00,379.20v-4.2M259.10,222.90v4.2M259.10,379.20v-4.2M83.15,222.90v2.4M83.15,379.20v-2.4M122.25,222.90v2.4M122.25,379.20v-2.4M161.35,222.90v2.4M161.35,379.20v-2.4M200.45,222.90v2.4M200.45,379.20v-2.4M239.55,222.90v2.4M239.55,379.20v-2.4M356.60,57.30v4.2M356.60,216.40v-4.2M395.20,57.30v4.2M395.20,216.40v-4.2M433.80,57.30v4.2M433.80,216.40v-4.2M472.40,57.30v4.2M472.40,216.40v-4.2M511.00,57.30v4.2M511.00,216.40v-4.2M549.60,57.30v4.2M549.60,216.40v-4.2M375.90,57.30v2.4M375.90,216.40v-2.4M414.50,57.30v2.4M414.50,216.40v-2.4M453.10,57.30v2.4M453.10,216.40v-2.4M491.70,57.30v2.4M491.70,216.40v-2.4M530.30,57.30v2.4M530.30,216.40v-2.4M357.30,225.40v4.2M357.30,381.40v-4.2M395.80,225.40v4.2M395.80,381.40v-4.2M434.30,225.40v4.2M434.30,381.40v-4.2M472.80,225.40v4.2M472.80,381.40v-4.2M511.30,225.40v4.2M511.30,381.40v-4.2M549.80,225.40v4.2M549.80,381.40v-4.2M376.55,225.40v2.4M376.55,381.40v-2.4M415.05,225.40v2.4M415.05,381.40v-2.4M453.55,225.40v2.4M453.55,381.40v-2.4M492.05,225.40v2.4M492.05,381.40v-2.4M530.55,225.40v2.4M530.55,381.40v-2.4M56.90,80.29h4.2M269.50,80.29h-4.2M56.90,102.67h4.2M269.50,102.67h-4.2M56.90,125.05h4.2M269.50,125.05h-4.2M56.90,147.43h4.2M269.50,147.43h-4.2M56.90,169.81h4.2M269.50,169.81h-4.2M56.90,192.19h4.2M269.50,192.19h-4.2M56.90,69.10h2.4M269.50,69.10h-2.4M56.90,91.48h2.4M269.50,91.48h-2.4M56.90,113.86h2.4M269.50,113.86h-2.4M56.90,136.24h2.4M269.50,136.24h-2.4M56.90,158.62h2.4M269.50,158.62h-2.4M56.90,181.00h2.4M269.50,181.00h-2.4M56.90,203.38h2.4M269.50,203.38h-2.4M56.90,244.39h4.2M269.70,244.39h-4.2M56.90,266.97h4.2M269.70,266.97h-4.2M56.90,289.55h4.2M269.70,289.55h-4.2M56.90,312.13h4.2M269.70,312.13h-4.2M56.90,334.71h4.2M269.70,334.71h-4.2M56.90,357.29h4.2M269.70,357.29h-4.2M56.90,233.10h2.4M269.70,233.10h-2.4M56.90,255.68h2.4M269.70,255.68h-2.4M56.90,278.26h2.4M269.70,278.26h-2.4M56.90,300.84h2.4M269.70,300.84h-2.4M56.90,323.42h2.4M269.70,323.42h-2.4M56.90,346.00h2.4M269.70,346.00h-2.4M56.90,368.58h2.4M269.70,368.58h-2.4M350.50,68.30h4.2M562.50,68.30h-4.2M350.50,91.22h4.2M562.50,91.22h-4.2M350.50,114.14h4.2M562.50,114.14h-4.2M350.50,137.06h4.2M562.50,137.06h-4.2M350.50,159.98h4.2M562.50,159.98h-4.2M350.50,182.90h4.2M562.50,182.90h-4.2M350.50,205.82h4.2M562.50,205.82h-4.2M350.50,79.76h2.4M562.50,79.76h-2.4M350.50,102.68h2.4M562.50,102.68h-2.4M350.50,125.60h2.4M562.50,125.60h-2.4M350.50,148.52h2.4M562.50,148.52h-2.4M350.50,171.44h2.4M562.50,171.44h-2.4M350.50,194.36h2.4M562.50,194.36h-2.4M351.10,236.00h4.2M564.10,236.00h-4.2M351.10,258.54h4.2M564.10,258.54h-4.2M351.10,281.08h4.2M564.10,281.08h-4.2M351.10,303.62h4.2M564.10,303.62h-4.2M351.10,326.16h4.2M564.10,326.16h-4.2M351.10,348.70h4.2M564.10,348.70h-4.2M351.10,371.24h4.2M564.10,371.24h-4.2M351.10,247.27h2.4M564.10,247.27h-2.4M351.10,269.81h2.4M564.10,269.81h-2.4M351.10,292.35h2.4M564.10,292.35h-2.4M351.10,314.89h2.4M564.10,314.89h-2.4M351.10,337.43h2.4M564.10,337.43h-2.4M351.10,359.97h2.4M564.10,359.97h-2.4" fill="none" stroke="#050505" stroke-width="1.4"/>
<text x="62.70" y="402.50" font-size="18.00" text-anchor="middle">8.9</text>
<text x="103.20" y="402.50" font-size="18.00" text-anchor="middle">8.6</text>
<text x="142.30" y="402.50" font-size="18.00" text-anchor="middle">8.3</text>
<text x="181.90" y="402.50" font-size="18.00" text-anchor="middle">8.0</text>
<text x="220.30" y="402.50" font-size="18.00" text-anchor="middle">7.7</text>
<text x="259.40" y="402.50" font-size="18.00" text-anchor="middle">7.4</text>
<text x="358.70" y="402.30" font-size="18.00" text-anchor="middle">8.9</text>
<text x="399.20" y="402.30" font-size="18.00" text-anchor="middle">8.6</text>
<text x="438.50" y="402.30" font-size="18.00" text-anchor="middle">8.3</text>
<text x="477.90" y="402.30" font-size="18.00" text-anchor="middle">8.0</text>
<text x="515.90" y="402.30" font-size="18.00" text-anchor="middle">7.7</text>
<text x="555.10" y="402.30" font-size="18.00" text-anchor="middle">7.4</text>
<text x="51.60" y="89.09" font-size="18.00" text-anchor="end">7.6</text>
<text x="51.60" y="253.19" font-size="18.00" text-anchor="end">7.6</text>
<text x="51.60" y="111.47" font-size="18.00" text-anchor="end">7.7</text>
<text x="51.60" y="275.77" font-size="18.00" text-anchor="end">7.7</text>
<text x="51.60" y="133.85" font-size="18.00" text-anchor="end">7.8</text>
<text x="51.60" y="298.35" font-size="18.00" text-anchor="end">7.8</text>
<text x="51.60" y="156.23" font-size="18.00" text-anchor="end">7.9</text>
<text x="51.60" y="320.93" font-size="18.00" text-anchor="end">7.9</text>
<text x="51.60" y="178.61" font-size="18.00" text-anchor="end">8.0</text>
<text x="51.60" y="343.51" font-size="18.00" text-anchor="end">8.0</text>
<text x="51.60" y="200.99" font-size="18.00" text-anchor="end">8.1</text>
<text x="51.60" y="366.09" font-size="18.00" text-anchor="end">8.1</text>
<text x="346.10" y="76.10" font-size="18.00" text-anchor="end">7.1</text>
<text x="344.60" y="244.00" font-size="18.00" text-anchor="end">7.1</text>
<text x="346.10" y="99.02" font-size="18.00" text-anchor="end">7.3</text>
<text x="344.60" y="266.54" font-size="18.00" text-anchor="end">7.3</text>
<text x="346.10" y="121.94" font-size="18.00" text-anchor="end">7.5</text>
<text x="344.60" y="289.08" font-size="18.00" text-anchor="end">7.5</text>
<text x="346.10" y="144.06" font-size="18.00" text-anchor="end">7.7</text>
<text x="344.60" y="311.62" font-size="18.00" text-anchor="end">7.7</text>
<text x="346.10" y="166.98" font-size="18.00" text-anchor="end">7.9</text>
<text x="344.60" y="334.16" font-size="18.00" text-anchor="end">7.9</text>
<text x="346.10" y="189.90" font-size="18.00" text-anchor="end">8.1</text>
<text x="344.60" y="356.70" font-size="18.00" text-anchor="end">8.1</text>
<text x="346.10" y="212.82" font-size="18.00" text-anchor="end">8.3</text>
<text x="344.60" y="379.24" font-size="18.00" text-anchor="end">8.3</text>
<text x="8.50" y="210.30" font-size="18.00" text-anchor="start">a)</text>
<text x="8.50" y="375.30" font-size="18.00" text-anchor="start">b)</text>
<text x="300.00" y="212.40" font-size="18.00" text-anchor="start">c)</text>
<text x="294.50" y="378.00" font-size="18.00" text-anchor="start">d)</text>
<g transform="translate(133.20,423.40)"><text x="0" y="0" font-size="18" font-style="italic">&#948;</text><text x="11.40" y="7.2" font-size="18" font-style="italic">1Q</text><text x="38.60" y="0.3" font-size="18">[ppm]</text></g>
<g transform="translate(429.40,423.40)"><text x="0" y="0" font-size="18" font-style="italic">&#948;</text><text x="11.40" y="7.2" font-size="18" font-style="italic">1Q</text><text x="38.60" y="0.3" font-size="18">[ppm]</text></g>
<g transform="translate(14.60,183.60) rotate(-90)"><text x="0" y="0" font-size="18" font-style="italic">&#948;</text><text x="11.40" y="7.2" font-size="18" font-style="italic">4Q</text><text x="38.60" y="0.3" font-size="18">[ppm]</text></g>
<g transform="translate(14.60,346.30) rotate(-90)"><text x="0" y="0" font-size="18" font-style="italic">&#948;</text><text x="11.40" y="7.2" font-size="18" font-style="italic">4Q</text><text x="38.60" y="0.3" font-size="18">[ppm]</text></g>
<g transform="translate(308.00,178.80) rotate(-90)"><text x="0" y="0" font-size="18" font-style="italic">&#948;</text><text x="11.40" y="7.2" font-size="18" font-style="italic">5Q</text><text x="38.60" y="0.3" font-size="18">[ppm]</text></g>
<g transform="translate(306.20,345.60) rotate(-90)"><text x="0" y="0" font-size="18" font-style="italic">&#948;</text><text x="11.40" y="7.2" font-size="18" font-style="italic">5Q</text><text x="38.60" y="0.3" font-size="18">[ppm]</text></g>
<text x="69.20" y="79.50" font-size="16.40" text-anchor="start">UF hyperpolarized</text>
<text x="389.10" y="79.80" font-size="16.40" text-anchor="start">UF hyperpolarized</text>
<text x="88.60" y="248.80" font-size="16.40" text-anchor="start">conventional</text>
<text x="417.90" y="248.70" font-size="16.40" text-anchor="start">conventional</text>
<text x="382.50" y="136.80" font-size="16.40" text-anchor="start">benzophenone</text>
<text x="415.90" y="174.70" font-size="16.40" text-anchor="start">pyridine</text>
<ellipse cx="105.20" cy="115.70" rx="1.50" ry="2.80" fill="#ddd" stroke="#080808" stroke-width="1.10"/>
<ellipse cx="105.10" cy="126.90" rx="2.30" ry="6.30" fill="#eee" stroke="#080808" stroke-width="1.20"/>
<ellipse cx="106.10" cy="127.50" rx="1.00" ry="5.20" fill="#080808"/>
<path d="M103.9,133.6 C103.6,136 104.2,139.5 105.2,141 C106.2,139.5 106.6,136 106.3,133.6 Z" fill="#444" stroke="#222" stroke-width="0.50" stroke-linejoin="round"/>
<ellipse cx="105.20" cy="164.80" rx="1.80" ry="4.60" fill="#ccc" stroke="#080808" stroke-width="1.60"/>
<ellipse cx="105.50" cy="186.30" rx="1.00" ry="2.20" fill="#666"/>
<polygon points="203.00,87.00 209.80,79.50 216.70,87.50 209.80,97.00" fill="#999"/>
<path d="M209.70,77.60 C210.60,77.60 213.30,84.77 213.30,90.75 C213.30,96.72 212.22,101.50 209.70,101.50 C207.18,101.50 206.10,96.72 206.10,90.75 C206.10,84.77 208.80,77.60 209.70,77.60 Z" fill="#444" stroke="#080808" stroke-width="1.60" stroke-linejoin="round"/>
<ellipse cx="207.30" cy="87.00" rx="0.90" ry="8.00" fill="#080808"/>
<ellipse cx="211.40" cy="88.00" rx="0.90" ry="9.00" fill="#080808"/>
<ellipse cx="208.50" cy="88.00" rx="0.70" ry="4.00" fill="#ddd"/>
<ellipse cx="208.60" cy="95.80" rx="1.30" ry="1.20" fill="#eee"/>
<ellipse cx="209.20" cy="98.80" rx="1.60" ry="1.10" fill="#eee"/>
<path d="M226.40,80.60 C227.20,80.60 228.60,84.47 228.60,87.69 C228.60,90.92 227.94,93.50 226.40,93.50 C224.86,93.50 224.20,90.92 224.20,87.69 C224.20,84.47 225.60,80.60 226.40,80.60 Z" fill="#666" stroke="#080808" stroke-width="1.40" stroke-linejoin="round"/>
<ellipse cx="224.60" cy="99.60" rx="2.60" ry="5.30" fill="#888" stroke="#080808" stroke-width="1.40"/>
<ellipse cx="228.60" cy="100.20" rx="2.10" ry="6.20" fill="#555" stroke="#080808" stroke-width="1.40"/>
<ellipse cx="224.30" cy="100.00" rx="1.00" ry="2.00" fill="#eee"/>
<path d="M241.60,82.60 C242.70,82.60 245.60,89.47 245.60,95.19 C245.60,100.92 244.40,105.50 241.60,105.50 C238.80,105.50 237.60,100.92 237.60,95.19 C237.60,89.47 240.50,82.60 241.60,82.60 Z" fill="#444" stroke="#080808" stroke-width="1.60" stroke-linejoin="round"/>
<ellipse cx="239.30" cy="94.00" rx="1.00" ry="9.00" fill="#080808"/>
<ellipse cx="241.50" cy="93.00" rx="0.70" ry="5.00" fill="#ccc"/>
<ellipse cx="241.00" cy="107.00" rx="1.50" ry="1.40" fill="#ddd" stroke="#080808" stroke-width="1.00"/>
<path d="M243.4,84.8 V87.5" fill="none" stroke="#333" stroke-width="0.80" stroke-linejoin="round"/>
<ellipse cx="173.10" cy="137.20" rx="3.00" ry="4.90" fill="#999" stroke="#080808" stroke-width="1.60"/>
<ellipse cx="172.00" cy="137.50" rx="0.80" ry="3.50" fill="#333"/>
<ellipse cx="183.30" cy="137.60" rx="3.40" ry="5.30" fill="#777" stroke="#080808" stroke-width="1.70"/>
<ellipse cx="182.80" cy="138.00" rx="0.90" ry="1.80" fill="#ccc"/>
<path d="M184.2,142 L185.3,145.5" fill="none" stroke="#333" stroke-width="1.30" stroke-linejoin="round"/>
<ellipse cx="198.40" cy="128.10" rx="3.00" ry="3.80" fill="#777" stroke="#080808" stroke-width="1.40" transform="rotate(25.0 198.40 128.10)"/>
<ellipse cx="207.00" cy="137.00" rx="3.70" ry="4.60" fill="#555" stroke="#080808" stroke-width="2.10"/>
<ellipse cx="228.50" cy="137.10" rx="3.70" ry="4.40" fill="#888" stroke="#080808" stroke-width="2.20"/>
<ellipse cx="228.00" cy="137.50" rx="1.30" ry="1.60" fill="#ddd"/>
<ellipse cx="253.60" cy="127.90" rx="1.70" ry="2.90" fill="#ddd" stroke="#080808" stroke-width="1.10"/>
<ellipse cx="199.00" cy="166.20" rx="3.90" ry="5.50" fill="#444" stroke="#080808" stroke-width="1.50"/>
<ellipse cx="199.00" cy="177.90" rx="3.50" ry="2.40" fill="none" stroke="#444" stroke-width="1.00"/>
<polygon points="190.90,186.30 198.50,180.70 206.10,186.30 198.50,191.90" fill="#777"/>
<ellipse cx="198.50" cy="186.30" rx="4.30" ry="5.40" fill="#333" stroke="#080808" stroke-width="1.50"/>
<ellipse cx="198.90" cy="186.30" rx="0.80" ry="4.50" fill="#999"/>
<ellipse cx="196.40" cy="186.30" rx="0.60" ry="3.50" fill="#888"/>
<ellipse cx="195.80" cy="199.90" rx="1.00" ry="1.70" fill="#080808"/>
<ellipse cx="200.60" cy="199.90" rx="1.00" ry="1.70" fill="#080808"/>
<ellipse cx="253.90" cy="155.50" rx="1.20" ry="2.40" fill="#666"/>
<ellipse cx="254.30" cy="164.60" rx="3.60" ry="5.60" fill="#444" stroke="#080808" stroke-width="1.50"/>
<polygon points="246.30,186.30 254.30,180.70 262.30,186.30 254.30,191.90" fill="#777"/>
<ellipse cx="254.00" cy="186.30" rx="4.50" ry="5.30" fill="#333" stroke="#080808" stroke-width="1.50"/>
<ellipse cx="256.00" cy="186.30" rx="1.30" ry="3.80" fill="#ccc"/>
<ellipse cx="253.40" cy="199.50" rx="1.30" ry="1.20" fill="none" stroke="#080808" stroke-width="0.90"/>
<path d="M100.9,295.3 H111" fill="none" stroke="#080808" stroke-width="1.30" stroke-linejoin="round"/>
<path d="M105.60,285.50 Q112.00,295.30 105.60,305.10 Q99.20,295.30 105.60,285.50 Z" fill="#080808"/>
<ellipse cx="105.60" cy="296.50" rx="0.60" ry="5.00" fill="#888"/>
<path d="M207.3,244.4 V262" fill="none" stroke="#080808" stroke-width="1.00" stroke-linejoin="round"/>
<ellipse cx="207.70" cy="252.50" rx="3.30" ry="5.60" fill="#222" stroke="#080808" stroke-width="1.60"/>
<ellipse cx="207.20" cy="252.00" rx="0.80" ry="3.00" fill="#999"/>
<ellipse cx="223.60" cy="254.00" rx="1.60" ry="4.50" fill="#eee" stroke="#080808" stroke-width="1.00"/>
<ellipse cx="225.20" cy="261.50" rx="1.80" ry="3.00" fill="#ddd" stroke="#080808" stroke-width="1.00" transform="rotate(-30.0 225.20 261.50)"/>
<ellipse cx="237.20" cy="251.00" rx="1.80" ry="3.00" fill="#555" stroke="#080808" stroke-width="1.10"/>
<ellipse cx="237.80" cy="259.50" rx="2.10" ry="5.00" fill="#080808"/>
<ellipse cx="238.00" cy="267.50" rx="2.10" ry="2.30" fill="#ddd" stroke="#080808" stroke-width="1.00"/>
<ellipse cx="196.40" cy="294.20" rx="2.40" ry="3.80" fill="#eee" stroke="#080808" stroke-width="1.10" transform="rotate(12.0 196.40 294.20)"/>
<ellipse cx="196.90" cy="295.00" rx="0.90" ry="1.60" fill="none" stroke="#080808" stroke-width="0.70" transform="rotate(12.0 196.90 295.00)"/>
<ellipse cx="251.40" cy="294.40" rx="2.10" ry="3.60" fill="#ddd" stroke="#080808" stroke-width="1.10" transform="rotate(15.0 251.40 294.40)"/>
<ellipse cx="251.00" cy="295.20" rx="0.80" ry="1.80" fill="#222" transform="rotate(15.0 251.00 295.20)"/>
<ellipse cx="202.60" cy="302.80" rx="0.80" ry="0.80" fill="none" stroke="#080808" stroke-width="0.60"/>
<ellipse cx="206.80" cy="302.80" rx="1.00" ry="1.00" fill="#080808"/>
<ellipse cx="224.60" cy="302.80" rx="0.90" ry="0.90" fill="none" stroke="#080808" stroke-width="0.60"/>
<ellipse cx="227.00" cy="302.80" rx="1.00" ry="0.80" fill="#080808"/>
<ellipse cx="196.30" cy="334.80" rx="2.60" ry="4.40" fill="#aaa" stroke="#080808" stroke-width="1.80" transform="rotate(15.0 196.30 334.80)"/>
<ellipse cx="250.00" cy="336.10" rx="0.90" ry="1.90" fill="none" stroke="#080808" stroke-width="0.80"/>
<ellipse cx="251.30" cy="355.90" rx="1.60" ry="2.40" fill="#080808"/>
<path d="M194.5,355.5 V359" fill="none" stroke="#080808" stroke-width="0.80" stroke-linejoin="round"/>
<ellipse cx="198.20" cy="356.80" rx="1.00" ry="1.30" fill="none" stroke="#080808" stroke-width="0.70"/>
<path d="M105.2,332.6 V336" fill="none" stroke="#080808" stroke-width="0.90" stroke-linejoin="round"/>
<path d="M504.8,125.5 C507.5,129 507.5,134 505.5,136.4 C503,137.5 499.8,136.5 499.5,133.5 C499.5,130 502,127.5 504.8,125.5 Z" fill="#555" stroke="#080808" stroke-width="1.50" stroke-linejoin="round"/>
<ellipse cx="503.20" cy="132.80" rx="1.30" ry="2.00" fill="#888"/>
<path d="M520.50,124.00 Q524.10,129.90 520.50,135.80 Q516.90,129.90 520.50,124.00 Z" fill="#080808"/>
<ellipse cx="520.50" cy="130.00" rx="2.40" ry="5.00" fill="#080808"/>
<path d="M531.8,127 C534.5,126 537.5,127.5 538.3,129 C538,132 535.5,135.5 533,136.4 C531,135.5 530.8,131 531.8,127 Z" fill="#666" stroke="#080808" stroke-width="1.50" stroke-linejoin="round"/>
<ellipse cx="533.60" cy="131.00" rx="1.20" ry="2.20" fill="#999"/>
<path d="M398.50,163.60 C400.70,163.60 402.20,166.84 402.20,169.54 C402.20,172.24 401.09,174.40 398.50,174.40 C395.91,174.40 394.80,172.24 394.80,169.54 C394.80,166.84 396.30,163.60 398.50,163.60 Z" fill="#080808"/>
<ellipse cx="399.20" cy="169.50" rx="0.80" ry="2.00" fill="#333"/>
<ellipse cx="492.50" cy="168.90" rx="3.60" ry="5.30" fill="#080808"/>
<ellipse cx="492.70" cy="168.90" rx="0.90" ry="1.60" fill="#555"/>
<path d="M549.10,163.50 C551.50,163.50 552.50,166.86 552.50,169.66 C552.50,172.46 551.48,174.70 549.10,174.70 C546.72,174.70 545.70,172.46 545.70,169.66 C545.70,166.86 546.70,163.50 549.10,163.50 Z" fill="#080808"/>
<ellipse cx="500.00" cy="297.70" rx="2.70" ry="2.60" fill="#080808"/>
<ellipse cx="517.50" cy="297.60" rx="3.20" ry="1.60" fill="#080808"/>
<ellipse cx="532.20" cy="297.40" rx="2.80" ry="2.70" fill="#080808"/>
<ellipse cx="535.00" cy="298.50" rx="1.20" ry="1.60" fill="#333"/>
<ellipse cx="398.80" cy="335.90" rx="2.40" ry="2.80" fill="#080808" transform="rotate(-20.0 398.80 335.90)"/>
<ellipse cx="488.60" cy="335.30" rx="3.60" ry="2.50" fill="#080808"/>
<ellipse cx="546.30" cy="335.60" rx="3.00" ry="2.50" fill="#080808"/>
<path d="M545.6,330.5 V332.5" fill="none" stroke="#080808" stroke-width="0.70" stroke-linejoin="round"/>
<ellipse cx="450.40" cy="276.60" rx="0.60" ry="0.70" fill="#080808"/>
<ellipse cx="450.40" cy="280.80" rx="0.60" ry="0.80" fill="#080808"/>
<ellipse cx="450.40" cy="284.90" rx="0.80" ry="1.40" fill="#080808"/>
<ellipse cx="450.40" cy="293.40" rx="1.00" ry="1.60" fill="#080808"/>
<ellipse cx="450.40" cy="308.30" rx="0.50" ry="0.50" fill="#080808"/>
<ellipse cx="450.40" cy="311.50" rx="0.70" ry="0.80" fill="#080808"/>
<ellipse cx="450.40" cy="320.80" rx="0.80" ry="0.90" fill="#080808"/>
<ellipse cx="450.40" cy="324.80" rx="0.90" ry="1.30" fill="#080808"/>
<ellipse cx="450.40" cy="330.60" rx="1.10" ry="1.80" fill="#080808"/>
<ellipse cx="450.40" cy="336.00" rx="0.60" ry="0.70" fill="#080808"/>
<ellipse cx="450.40" cy="340.20" rx="0.80" ry="0.90" fill="#080808"/>
<ellipse cx="450.40" cy="346.70" rx="0.70" ry="0.80" fill="#080808"/>
<ellipse cx="450.40" cy="327.40" rx="0.70" ry="0.80" fill="#080808"/>
<ellipse cx="450.40" cy="333.20" rx="0.60" ry="0.70" fill="#080808"/>
<path d="M444.2,311.5 H445.2 M446.3,311.5 H447.5" fill="none" stroke="#555" stroke-width="0.70" stroke-linejoin="round"/>
</svg>
</body></html>
